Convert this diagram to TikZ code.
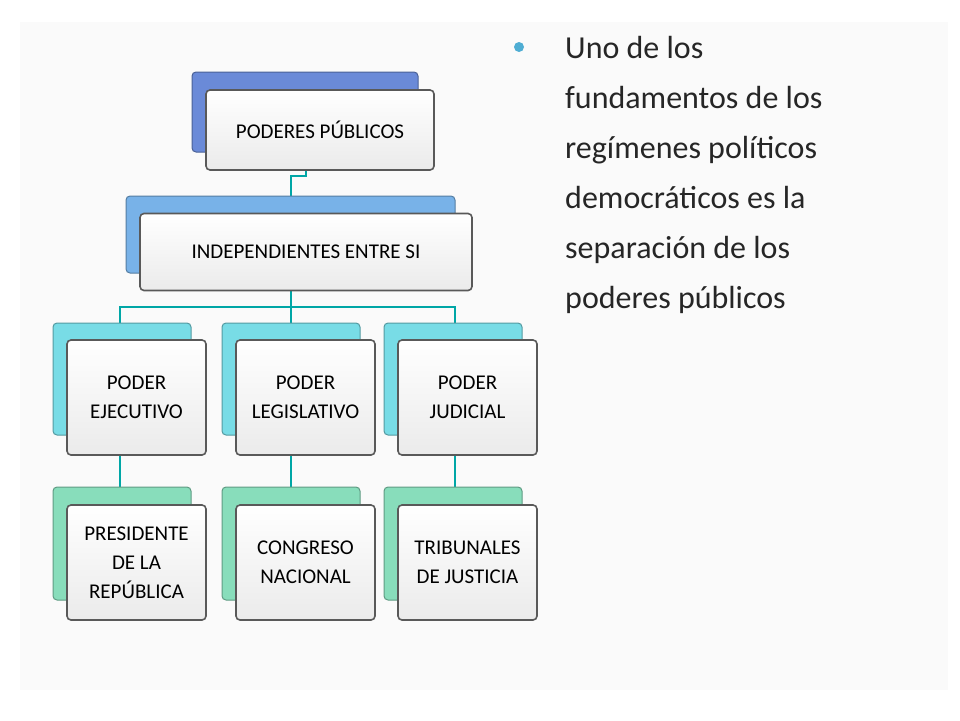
\documentclass[tikz,border=0pt]{standalone}
\usepackage{fontspec}
\setmainfont{Carlito}
\begin{document}
\begin{tikzpicture}[x=1pt,y=-1pt,
 back/.style={draw=#1!70!black,fill=#1,rounded corners=4pt,line width=1pt},
 front/.style={draw=black!65,top color=white,bottom color=black!8,rounded corners=4pt,line width=1.6pt,align=center,font=\fontsize{21}{29}\selectfont},
 conn/.style={draw=teal!70!cyan,line width=2pt}]
\useasboundingbox (0,0) rectangle (960,720);
\fill[black!2] (20,22) rectangle (948,690);
\definecolor{c1}{HTML}{6A8AD8}
\definecolor{c2}{HTML}{78B2E8}
\definecolor{c3}{HTML}{78DCE6}
\definecolor{c4}{HTML}{88DDBB}
% connectors
\coordinate (j1) at (291,307);
\draw[conn] (306,170) -- (306,176) -- (291,176) -- (291,196);
\draw[conn] (291,290) -- (j1);
\draw[conn] (120,323) -- (120,307) -- (455,307) -- (455,323);
\draw[conn] (291,307) -- (291,323);
\foreach \x in {120,291,455}{\draw[conn] (\x,455) -- (\x,487);}
% level 1
\draw[back=c1] (192,72) rectangle (418,152);
\node[front,minimum width=228pt,minimum height=80pt] (pp) at (320,130) {PODERES PÚBLICOS};
% level 2
\draw[back=c2] (126,196) rectangle (455,273);
\node[front,minimum width=332pt,minimum height=77pt] (ie) at (306,252) {INDEPENDIENTES ENTRE SI};
% level 3
\foreach \bx/\name/\t in {53/pe/{PODER\\EJECUTIVO},222/pl/{PODER\\LEGISLATIVO},384/pj/{PODER\\JUDICIAL}}{
 \draw[back=c3] (\bx,323) rectangle ({\bx+138},435);
 \node[front,minimum width=139pt,minimum height=115pt] (\name) at ({\bx+83.5},397.5) {\t};
}
% level 4
\foreach \bx/\name/\t in {53/pr/{PRESIDENTE\\DE LA\\REPÚBLICA},222/cn/{CONGRESO\\NACIONAL},384/tj/{TRIBUNALES\\DE JUSTICIA}}{
 \draw[back=c4] (\bx,487) rectangle ({\bx+138},600);
 \node[front,minimum width=139pt,minimum height=115pt] (\name) at ({\bx+83.5},562.5) {\t};
}
% text
\fill[cyan!60!teal!80] (519,47) circle (5pt);
\node[anchor=north west,align=left,font=\fontsize{32}{50}\selectfont,text=black!85,inner sep=0pt] (txt) at (565,36) {Uno de los\\fundamentos de los\\regímenes políticos\\democráticos es la\\separación de los\\poderes públicos};
\end{tikzpicture}
\end{document}
